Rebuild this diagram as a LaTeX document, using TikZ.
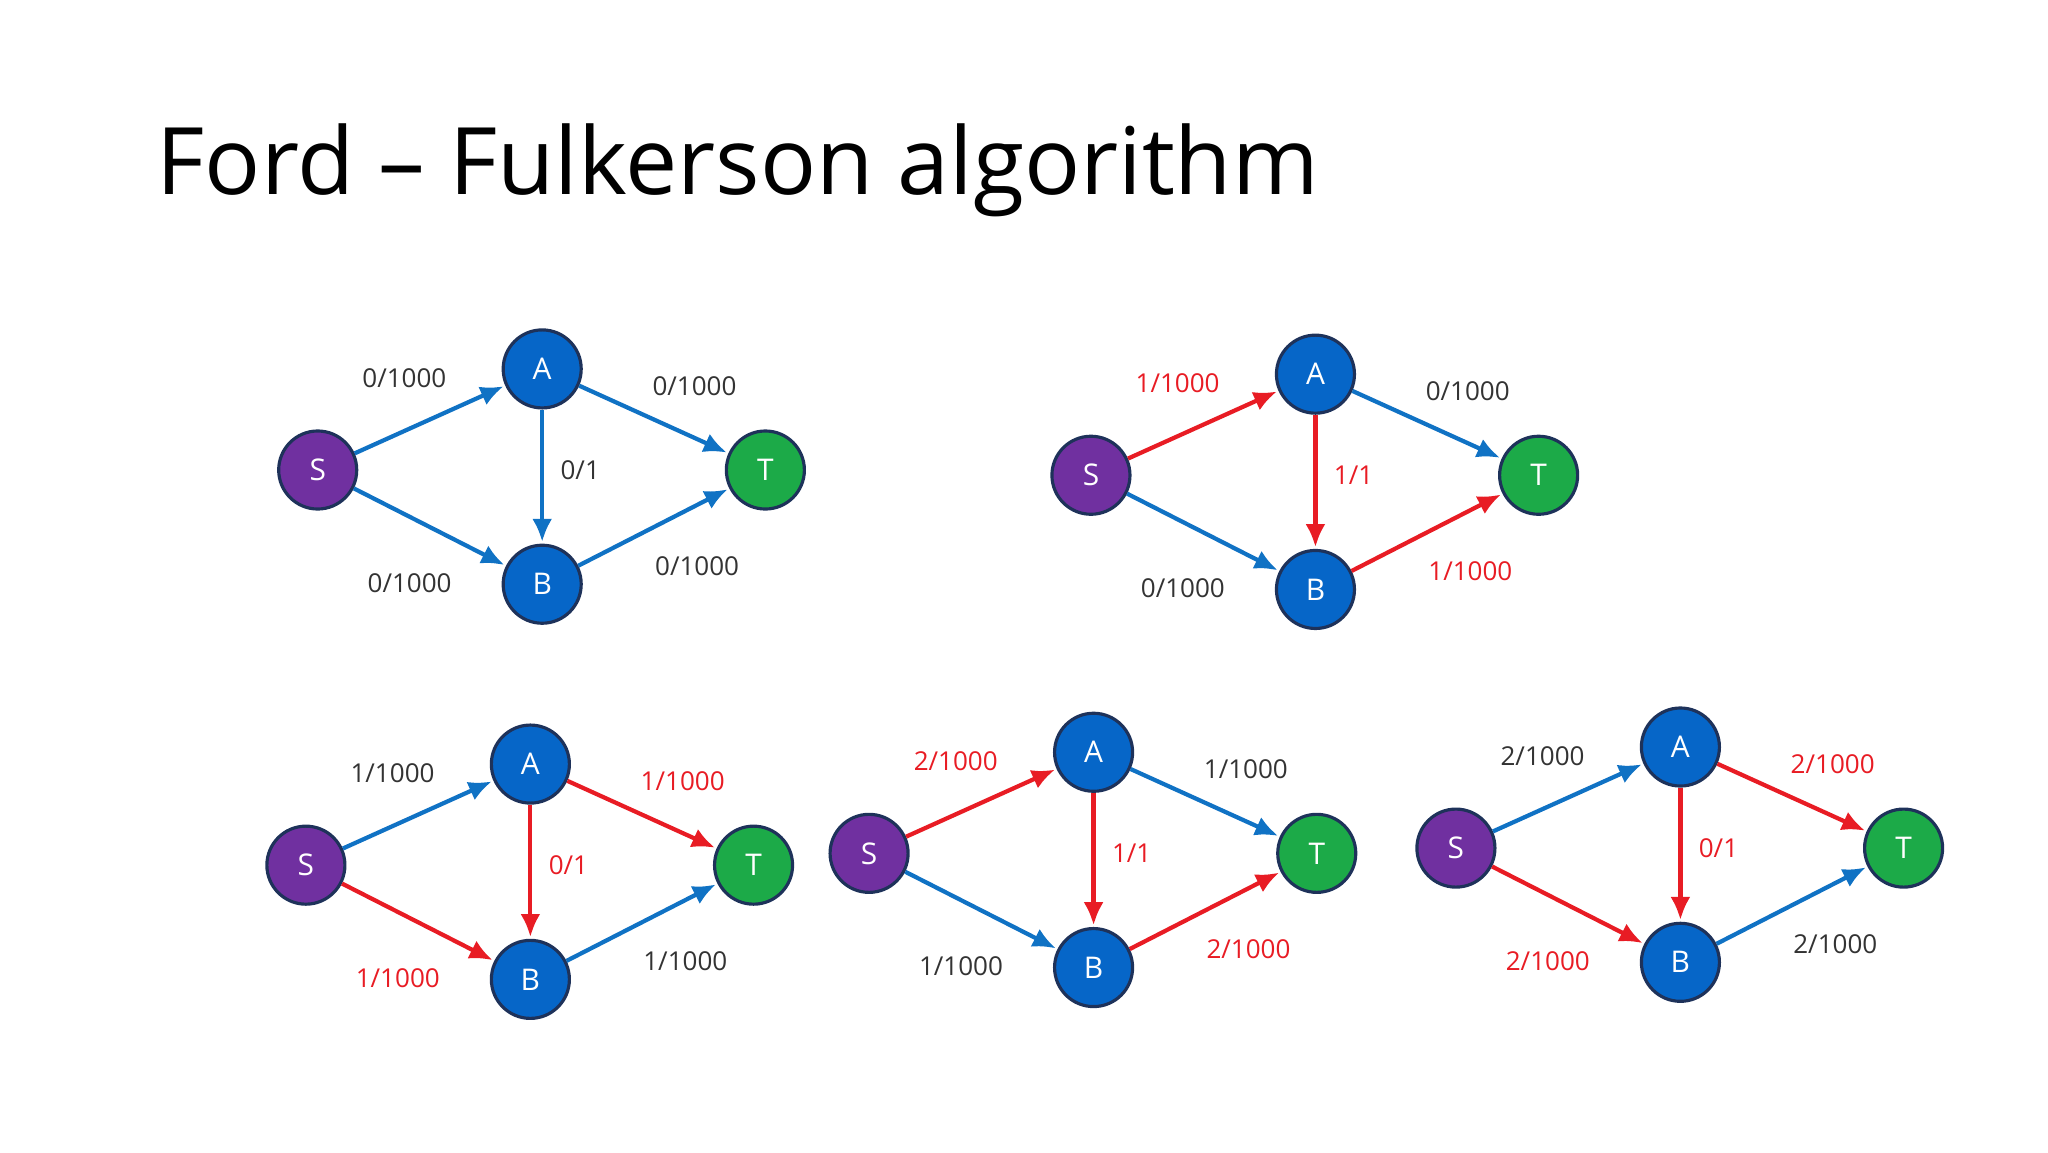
\documentclass[tikz,border=0pt]{standalone}
\usepackage{fontspec}
\setmainfont{Open Sans}
\usetikzlibrary{arrows.meta}

\definecolor{edgeblue}{RGB}{16,114,196}
\definecolor{edgered}{RGB}{232,28,36}
\definecolor{nodeblue}{RGB}{6,102,200}
\definecolor{nodepurple}{RGB}{112,48,160}
\definecolor{nodegreen}{RGB}{28,170,72}
\definecolor{rimdark}{RGB}{30,50,90}

\tikzset{
  vert/.style={circle,draw=rimdark,line width=0.9pt,minimum size=0.78cm,inner sep=0pt,
    text=white,font=\fontsize{8.5}{10}\selectfont},
  src/.style={vert,fill=nodepurple},
  mid/.style={vert,fill=nodeblue},
  snk/.style={vert,fill=nodegreen},
  flow/.style={-{Latex[length=2.3mm,width=2mm]},line width=1.2pt,shorten >=0.5pt},
  bl/.style={flow,draw=edgeblue},
  rd/.style={flow,draw=edgered},
  lbl/.style={font=\fontsize{7.4}{9}\selectfont,text=black!80},
  rlbl/.style={lbl,text=edgered}
}

% one network: prefix, position of S
\newcommand\netnodes[2]{%
  \begin{scope}[shift={(#2)}]
    \node[src] (#1S) at (0,0) {S};
    \node[mid] (#1A) at (171,-77) {A};
    \node[mid] (#1B) at (171,87) {B};
    \node[snk] (#1T) at (341,0) {T};
    \coordinate (#1lSA) at (66,-70);
    \coordinate (#1lAT) at (287,-64);
    \coordinate (#1lAB) at (200,0);
    \coordinate (#1lSB) at (70,86);
    \coordinate (#1lBT) at (289,73);
  \end{scope}}

\begin{document}
\begin{tikzpicture}[x=0.013128cm,y=-0.013128cm]
  \useasboundingbox (0,0) rectangle (1560,877.5);

  \node[anchor=west,font=\fontsize{26.5}{30}\selectfont] (title) at (110,130) {Ford – Fulkerson algorithm};

  % first row
  \netnodes{p}{242,358}
  \draw[bl] (pS) -- (pA); \node[lbl] at (plSA) {0/1000};
  \draw[bl] (pA) -- (pT); \node[lbl] at (plAT) {0/1000};
  \draw[bl] (pA) -- (pB); \node[lbl] at (plAB) {0/1};
  \draw[bl] (pS) -- (pB); \node[lbl] at (plSB) {0/1000};
  \draw[bl] (pB) -- (pT); \node[lbl] at (plBT) {0/1000};

  \netnodes{q}{831,362}
  \draw[rd] (qS) -- (qA); \node[rlbl] at (qlSA) {1/1000};
  \draw[bl] (qA) -- (qT); \node[lbl] at (qlAT) {0/1000};
  \draw[rd] (qA) -- (qB); \node[rlbl] at (qlAB) {1/1};
  \draw[bl] (qS) -- (qB); \node[lbl] at (qlSB) {0/1000};
  \draw[rd] (qB) -- (qT); \node[rlbl] at (qlBT) {1/1000};

  % second row
  \netnodes{r}{233,659}
  \draw[bl] (rS) -- (rA); \node[lbl] at (rlSA) {1/1000};
  \draw[rd] (rA) -- (rT); \node[rlbl] at (rlAT) {1/1000};
  \draw[rd] (rA) -- (rB); \node[rlbl] at (rlAB) {0/1};
  \draw[rd] (rS) -- (rB); \node[rlbl] at (rlSB) {1/1000};
  \draw[bl] (rB) -- (rT); \node[lbl] at (rlBT) {1/1000};

  \netnodes{s}{662,650}
  \draw[rd] (sS) -- (sA); \node[rlbl] at (slSA) {2/1000};
  \draw[bl] (sA) -- (sT); \node[lbl] at (slAT) {1/1000};
  \draw[rd] (sA) -- (sB); \node[rlbl] at (slAB) {1/1};
  \draw[bl] (sS) -- (sB); \node[lbl] at (slSB) {1/1000};
  \draw[rd] (sB) -- (sT); \node[rlbl] at (slBT) {2/1000};

  \netnodes{u}{1109,646}
  \draw[bl] (uS) -- (uA); \node[lbl] at (ulSA) {2/1000};
  \draw[rd] (uA) -- (uT); \node[rlbl] at (ulAT) {2/1000};
  \draw[rd] (uA) -- (uB); \node[rlbl] at (ulAB) {0/1};
  \draw[rd] (uS) -- (uB); \node[rlbl] at (ulSB) {2/1000};
  \draw[bl] (uB) -- (uT); \node[lbl] at (ulBT) {2/1000};
\end{tikzpicture}
\end{document}
